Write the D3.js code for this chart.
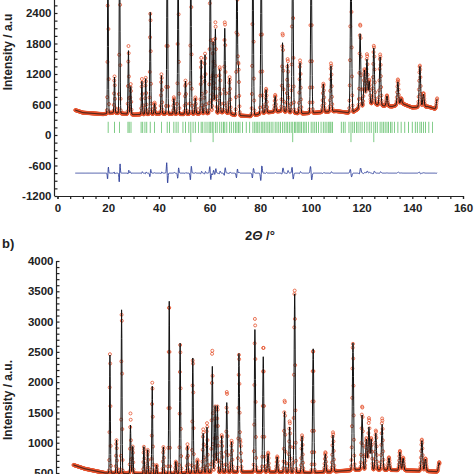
<!DOCTYPE html>
<html><head><meta charset="utf-8">
<script src="https://cdn.jsdelivr.net/npm/d3@7"></script>
<style>
body{margin:0;background:#fff}
text{font-family:"Liberation Sans",Arial,sans-serif;font-weight:bold;fill:#222}
</style></head>
<body><svg id="c" width="474" height="474"></svg>
<script>
// peak positions (2theta) and heights above background
const peakPos = [19.9,22.5,24.5,28,28.9,33.3,34.8,36.6,38.3,41,43.3,45.9,47.6,50.5,52.6,54.4,56.7,58.2,60.3,61.4,62.3,64,66,67.9,70.8,71.4,77.1,80.4,82.3,85.9,88.8,90.8,92.8,95.7,100.1,104.9,107.9,115.8,119.4,121.1,122.1,123,124.8,127.3,130,134.3,135.6,143,144.4,149.8];
const topCalc = [3000,700,3500,1250,550,650,700,2000,200,750,3500,300,3000,650,3000,300,1050,1150,3000,1400,1650,850,1650,700,3000,950,3200,3000,450,300,1350,950,3200,1000,3000,550,900,3000,1450,700,900,450,1100,950,200,450,100,800,250,200];
const topObs  = [3000,720,3500,1350,600,700,720,2000,220,780,3500,330,3000,660,3000,320,1100,1180,3000,1450,1800,900,1800,720,3000,950,3200,3000,470,330,1550,1050,3200,1050,3000,560,950,3000,1650,720,1000,480,1150,1000,210,500,110,820,270,220];
const botCalc = [1950,550,2700,800,450,450,400,1450,150,450,2850,200,2150,450,1900,200,650,750,1750,1100,1100,600,1150,500,1950,400,2350,1900,300,250,1000,750,2950,600,2050,300,600,2100,900,500,700,500,600,750,200,300,200,500,200,150];
const botObs  = [2000,550,2700,1000,450,450,400,1530,150,450,2850,200,2150,480,1900,220,720,820,2050,1100,1100,620,1350,520,1950,450,2550,2100,320,260,1200,850,3050,620,2050,330,650,2100,1050,520,850,520,650,850,210,320,210,520,210,160];
// small misfit in peak position between observed and calculated (deg)
const obsShift = [0.03,-0.02,0.04,0.02,-0.02,0.02,0.02,0.03,0,0.02,-0.05,0.02,0.03,0.01,0.04,0.01,0.02,0.02,-0.04,0.03,0.03,0.03,0.04,0.02,0.03,0.02,0.03,0.05,0.02,0.01,0.04,0.03,-0.04,0.02,-0.05,0.02,0.02,-0.03,0.04,0.02,0.02,0.02,0.03,0.02,0,0.02,0,-0.03,0.01,0.04];
// background control points
const topBg = [[7,490],[10,440],[18,410],[22,440],[30,400],[40,420],[50,410],[60,430],[66,450],[70,390],[76,370],[82,440],[88,470],[96,420],[102,440],[110,470],[116,430],[120,560],[124,620],[128,580],[132,560],[136,620],[140,540],[146,560],[150,500]];
const botBg = [[5,640],[10,570],[18,500],[40,480],[60,510],[80,520],[100,500],[120,560],[140,540],[150,520]];
// reflection markers
const refl = [20,22.5,24.5,27.8,28.3,29,33,33.6,34.5,35.2,36.6,38.3,41,43.3,44.2,45.9,46.8,47.6,49.5,50.5,51.8,52.6,53.5,54.4,55.6,56.7,57.3,58.2,59,59.8,60.3,61,61.4,62.3,63,64,64.8,65.5,66,66.8,67.9,68.6,69.5,70.2,70.8,71.4,72,73,74.5,75.8,77.1,77.8,78.4,79,79.6,80.4,81,81.6,82.3,83,83.6,84.3,85,85.9,86.6,87.3,88,88.8,89.5,90.2,90.8,91.5,92.2,92.8,93.5,94,94.6,95.2,95.7,96.3,97,97.6,98.2,99,100.1,100.8,101.5,102.2,103,104,104.9,105.6,106.3,107,107.5,107.9,108.5,112,112.8,113.5,115,115.8,116.5,117.2,118,118.6,119.4,120.2,121.1,122.1,123,123.8,124.8,125.5,126.2,127.3,128,128.6,129.3,130,130.6,131.4,132,133,134.3,135.6,137,138.5,140,141.2,142,143,143.6,144.4,145.2,146.5,148];
const longRefl = [52.6,61.4,92.8,115.8,124.8];
const xTicks = [0,20,40,60,80,100,120,140,160];
const topYTicks = [-1200,-600,0,600,1200,1800,2400];
const botYTicks = [500,1000,1500,2000,2500,3000,3500,4000];

const svg = d3.select("#c");
const x = d3.scaleLinear().domain([0,160]).range([57.5,463]);
const xb = d3.scaleLinear().domain([0,160]).range([59.5,465]);
const yT = d3.scaleLinear().domain([-1200,2400]).range([196,13]);
const yB = d3.scaleLinear().domain([500,4000]).range([473,261]);

function bgAt(pts, t){ return d3.scaleLinear().domain(pts.map(p=>p[0])).range(pts.map(p=>p[1])).clamp(true)(t); }
function prof(t, hs, sh){
  let s=0;
  peakPos.forEach((p,i)=>{ const w=0.16+0.0012*p; const d=(t-p-(sh?sh[i]:0))/w; s+=hs[i]*Math.exp(-0.693*d*d); });
  return s;
}
function series(t0,t1,bg,hc,ho){
  const out=[];
  for(let t=t0;t<=t1+1e-9;t+=0.1){ const b=bgAt(bg,t); out.push({t, c:b+prof(t,hc), o:b+prof(t,ho,obsShift)}); }
  return out;
}
const red="#e5532f";

// ---- top panel
const topData = series(7,149.8,topBg,topCalc,topObs);
const gT = svg.append("g");
gT.append("g").selectAll("circle").data(topData).join("circle")
  .attr("cx",d=>x(d.t)).attr("cy",d=>yT(d.o)).attr("r",1.5)
  .attr("fill","none").attr("stroke",red).attr("stroke-width",0.8);
gT.append("path").datum(topData).attr("fill","none").attr("stroke","#111").attr("stroke-width",1)
  .attr("d",d3.line().x(d=>x(d.t)).y(d=>yT(d.c)));
gT.append("g").selectAll("line").data(refl).join("line")
  .attr("x1",d=>x(d)).attr("x2",d=>x(d)).attr("y1",yT(260)).attr("y2",d=>yT(longRefl.includes(d)?-140:40))
  .attr("stroke","#3fb24a").attr("stroke-width",0.8).attr("opacity",0.85);
gT.append("path").datum(topData).attr("fill","none").attr("stroke","#2b3d9a").attr("stroke-width",0.9)
  .attr("d",d3.line().x(d=>x(d.t)).y(d=>yT(Math.max(-1150,Math.min(-350,-750+(d.o-d.c)*0.35)))));
const axT = gT.append("g").attr("transform","translate(0,196)")
  .call(d3.axisBottom(x).tickValues(d3.range(0,161,5)).tickSize(3).tickFormat(d=>xTicks.includes(d)?d:""));
axT.selectAll("text").attr("dy","0.9em").attr("font-size",11.5);
const ayT = gT.append("g").attr("transform","translate(57.5,0)")
  .call(d3.axisLeft(yT).tickValues(d3.range(-1200,2701,150)).tickSize(3).tickFormat(d=>topYTicks.includes(d)?d:""));
ayT.select(".domain").attr("d","M-3,0V196");
ayT.selectAll("text").attr("font-size",11.5);
[axT,ayT].forEach(a=>{a.selectAll("path,line").attr("stroke","#222").attr("stroke-width",1.2);a.selectAll("text").attr("fill","#222").attr("font-family","Liberation Sans").attr("font-weight","bold");});
svg.append("text").attr("x",260).attr("y",240).attr("text-anchor","middle").attr("font-size",13)
  .html('2<tspan font-style="italic">Θ</tspan> /°');
svg.append("text").attr("transform","translate(12,52) rotate(-90)").attr("text-anchor","middle").attr("font-size",12).text("Intensity / a.u");

// ---- bottom panel
svg.append("text").attr("x",2).attr("y",248).attr("font-size",13).text("b)");
const botData = series(5.5,150,botBg,botCalc,botObs);
const gB = svg.append("g");
gB.append("g").selectAll("circle").data(botData).join("circle")
  .attr("cx",d=>xb(d.t)).attr("cy",d=>yB(d.o)).attr("r",1.5)
  .attr("fill","none").attr("stroke",red).attr("stroke-width",0.8);
gB.append("path").datum(botData).attr("fill","none").attr("stroke","#111").attr("stroke-width",1)
  .attr("d",d3.line().x(d=>xb(d.t)).y(d=>yB(d.c)));
const ayB = gB.append("g").attr("transform","translate(59.5,0)")
  .call(d3.axisLeft(yB).tickValues(d3.range(400,4001,100)).tickSize(3).tickFormat(d=>botYTicks.includes(d)?d:""));
ayB.select(".domain").attr("d","M-3,261V480");
ayB.selectAll("path,line").attr("stroke","#222").attr("stroke-width",1.2);
ayB.selectAll("text").attr("font-size",11.5).attr("fill","#222").attr("font-family","Liberation Sans").attr("font-weight","bold");
svg.append("text").attr("transform","translate(12,400) rotate(-90)").attr("text-anchor","middle").attr("font-size",12).text("Intensity / a.u.");
</script></body></html>
